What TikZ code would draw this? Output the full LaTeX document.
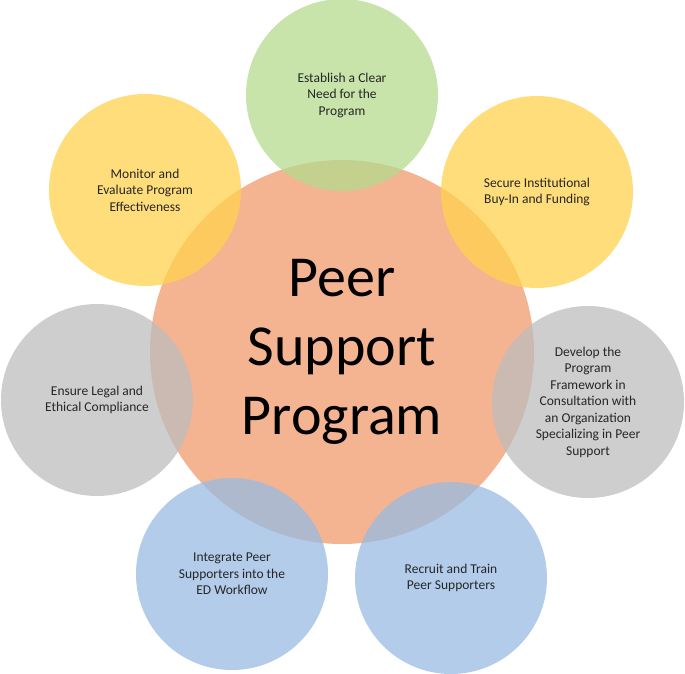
\documentclass[tikz,border=0pt]{standalone}
\usepackage{fontspec}
\setmainfont{Carlito}
\begin{document}
\begin{tikzpicture}[x=1pt,y=-1pt,
  outer/.style={circle,minimum size=192pt,inner sep=0pt,fill opacity=0.75,text opacity=1,align=center,font=\fontsize{13.5}{16.5}\selectfont,text=black!85},
  green/.style={outer,fill=green!35!lime!60!olive!40!white},
]
\useasboundingbox (0,0) rectangle (685,673);
\definecolor{cgreen}{HTML}{B5DB8E}
\definecolor{cyellow}{HTML}{FFD24F}
\definecolor{cgray}{HTML}{BDBDBD}
\definecolor{cblue}{HTML}{99BBE3}
\definecolor{corange}{HTML}{F4B491}
\node[circle,minimum size=384pt,fill=corange,inner sep=0pt,align=center,font=\fontsize{58}{69}\selectfont] (c) at (342,352) {Peer\\Support\\Program};
\node[outer,fill=cgreen] (a) at (342,95) {Establish a Clear\\Need for the\\Program};
\node[outer,fill=cyellow] (b) at (537,192) {Secure Institutional\\Buy-In and Funding};
\node[outer,fill=cyellow] (h) at (145,190) {Monitor and\\Evaluate Program\\Effectiveness};
\node[outer,fill=cgray] (g) at (97,400) {Ensure Legal and\\Ethical Compliance};
\node[outer,fill=cgray] (d) at (588,402) {Develop the\\Program\\Framework in\\Consultation with\\an Organization\\Specializing in Peer\\Support};
\node[outer,fill=cblue] (f) at (232,574) {Integrate Peer\\Supporters into the\\ED Workflow};
\node[outer,fill=cblue] (e) at (451,578) {Recruit and Train\\Peer Supporters};
\end{tikzpicture}
\end{document}
